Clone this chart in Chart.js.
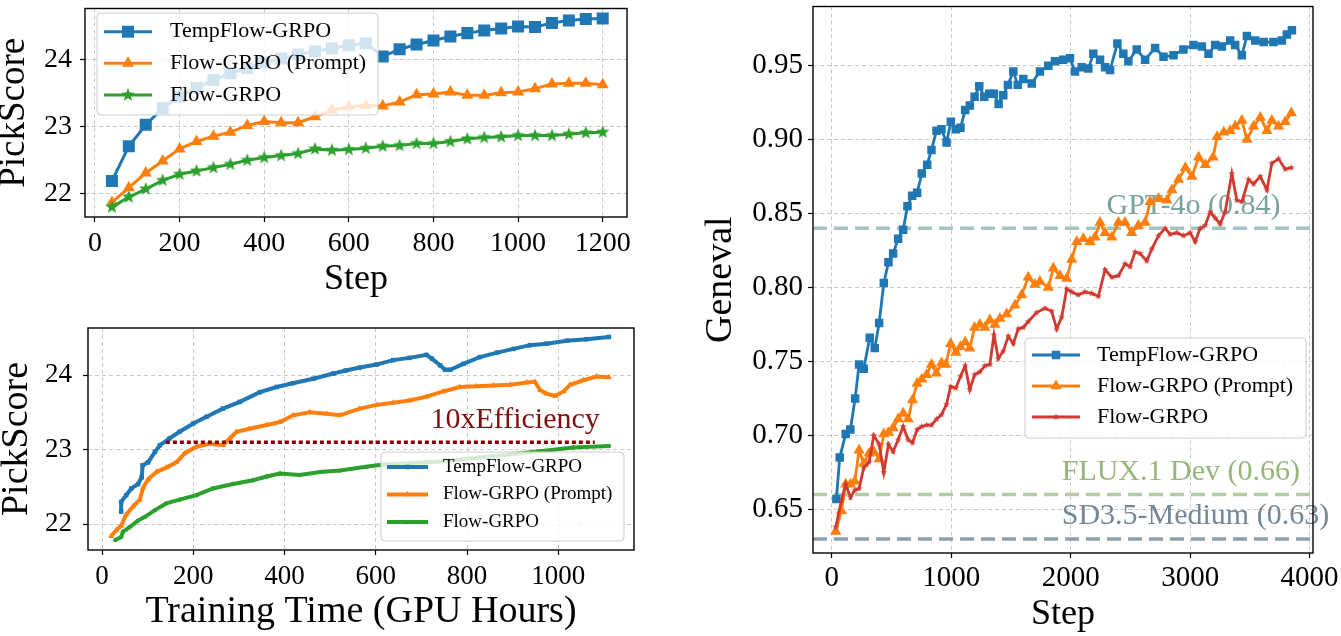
<!DOCTYPE html>
<html>
<head>
<meta charset="utf-8">
<script src="https://cdn.jsdelivr.net/npm/chart.js@4.4.1/dist/chart.umd.min.js"></script>
<style>
  body { margin: 0; background: #fff; }
  #wrap { position: relative; width: 1341px; height: 636px; overflow: hidden; }
  canvas { position: absolute; }
</style>
</head>
<body>
<div id="wrap">
  <canvas id="c1" width="650" height="310" style="left:0;top:0"></canvas>
  <canvas id="c2" width="650" height="326" style="left:0;top:310px"></canvas>
  <canvas id="c3" width="661" height="636" style="left:680px;top:0"></canvas>
</div>
<script>
// ---- top left: PickScore vs step
const stepsTop = [40, 80, 120, 160, 200, 240, 280, 320, 360, 400, 440, 480, 520, 560, 600,
  640, 680, 720, 760, 800, 840, 880, 920, 960, 1000, 1040, 1080, 1120, 1160, 1200];
const tempTop = [22.19, 22.71, 23.03, 23.28, 23.45, 23.58, 23.70, 23.80, 23.88, 23.96, 24.02, 24.08, 24.13, 24.17, 24.22,
  24.25, 24.05, 24.16, 24.23, 24.29, 24.35, 24.40, 24.44, 24.47, 24.50, 24.49, 24.55, 24.59, 24.61, 24.62];
const promptTop = [21.87, 22.09, 22.31, 22.49, 22.67, 22.78, 22.86, 22.92, 23.02, 23.08, 23.06, 23.06, 23.15, 23.25, 23.30,
  23.32, 23.31, 23.37, 23.48, 23.49, 23.52, 23.47, 23.47, 23.51, 23.52, 23.57, 23.64, 23.65, 23.65, 23.63];
const flowTop = [21.80, 21.95, 22.07, 22.20, 22.29, 22.34, 22.39, 22.44, 22.50, 22.54, 22.57, 22.60, 22.67, 22.65, 22.66,
  22.68, 22.71, 22.72, 22.75, 22.75, 22.78, 22.82, 22.84, 22.85, 22.87, 22.87, 22.87, 22.89, 22.91, 22.92];
const stepTicksTop = [0, 200, 400, 600, 800, 1000, 1200];
const pickTicks = [22, 23, 24];

// ---- bottom left: PickScore vs GPU hours
const hoursTemp = [42, 42, 53, 64, 79, 87, 89, 101, 116, 127, 148, 170, 200, 229, 265, 302, 346, 383, 418, 463,
  507, 534, 565, 602, 638, 674, 711, 723, 741, 752, 763, 792, 828, 866, 902, 938, 974, 1019, 1062, 1111];
const pickTemp = [22.17, 22.30, 22.39, 22.48, 22.54, 22.63, 22.79, 22.83, 22.97, 23.06, 23.15, 23.24, 23.35, 23.44, 23.55, 23.64, 23.77, 23.84, 23.89, 23.95,
  24.02, 24.06, 24.10, 24.14, 24.20, 24.23, 24.27, 24.22, 24.13, 24.07, 24.07, 24.15, 24.24, 24.30, 24.35, 24.40, 24.42, 24.46, 24.48, 24.51];
const hoursPrompt = [20, 31, 42, 53, 68, 83, 90, 101, 119, 141, 163, 181, 207, 236, 265, 280, 295, 323, 361, 390, 419, 455,
  492, 521, 565, 602, 638, 674, 711, 748, 784, 821, 858, 895, 931, 949, 960, 974, 993, 1012, 1026, 1055, 1084, 1111];
const pickPrompt = [21.84, 21.92, 21.98, 22.13, 22.24, 22.33, 22.49, 22.60, 22.70, 22.76, 22.83, 22.95, 23.04, 23.08, 23.06, 23.15, 23.24, 23.28, 23.33, 23.37, 23.46, 23.50,
  23.48, 23.46, 23.55, 23.60, 23.63, 23.66, 23.71, 23.78, 23.84, 23.85, 23.86, 23.87, 23.90, 23.91, 23.80, 23.75, 23.72, 23.78, 23.87, 23.93, 23.98, 23.97];
const hoursFlow = [29, 42, 46, 60, 79, 94, 116, 141, 170, 207, 243, 287, 331, 361, 390, 433, 478, 521, 579, 616, 741, 850, 960, 1033, 1111];
const pickFlow = [21.79, 21.83, 21.90, 21.96, 22.05, 22.10, 22.19, 22.28, 22.33, 22.39, 22.48, 22.54, 22.59, 22.64, 22.68, 22.66, 22.70, 22.72, 22.77, 22.80, 22.84, 22.91, 22.98, 23.03, 23.05];
const effHours = [140, 1080];
const effPick = [23.1, 23.1];
const hourTicks = [0, 200, 400, 600, 800, 1000];

// ---- right: Geneval vs step
const stepsBlue = [39, 67, 117, 156, 196, 229, 268, 318, 360, 397, 436, 475, 514, 556, 598, 634, 673, 715, 754, 799,
  835, 877, 919, 961, 997, 1039, 1078, 1117, 1156, 1196, 1235, 1277, 1319, 1358, 1397, 1436, 1475, 1520, 1557, 1604,
  1674, 1743, 1813, 1869, 1938, 1994, 2036, 2092, 2148, 2190, 2246, 2288, 2330, 2391, 2441, 2483, 2553, 2623, 2707, 2777,
  2861, 2944, 3028, 3098, 3154, 3210, 3266, 3335, 3377, 3433, 3475, 3545, 3615, 3698, 3768, 3810, 3852];
const genevalBlue = [0.657, 0.685, 0.701, 0.704, 0.725, 0.748, 0.745, 0.766, 0.759, 0.776, 0.803, 0.817, 0.823, 0.833, 0.839, 0.855, 0.862, 0.864, 0.877, 0.883,
  0.893, 0.906, 0.907, 0.898, 0.912, 0.907, 0.908, 0.920, 0.923, 0.929, 0.936, 0.929, 0.931, 0.931, 0.924, 0.930, 0.937, 0.946, 0.937, 0.941,
  0.938, 0.946, 0.950, 0.953, 0.954, 0.955, 0.946, 0.949, 0.948, 0.958, 0.954, 0.949, 0.947, 0.965, 0.958, 0.953, 0.961, 0.954, 0.962, 0.956,
  0.957, 0.961, 0.964, 0.963, 0.958, 0.964, 0.963, 0.967, 0.964, 0.957, 0.970, 0.967, 0.966, 0.966, 0.967, 0.971, 0.974];
const stepsOrange = [34, 81, 117, 157, 193, 229, 268, 313, 352, 397, 436, 475, 514, 556, 598, 640, 676, 715, 754, 794,
  835, 877, 919, 955, 995, 1039, 1078, 1117, 1156, 1196, 1240, 1282, 1324, 1366, 1408, 1464, 1534, 1590, 1645, 1701,
  1743, 1813, 1855, 1911, 1967, 2009, 2051, 2106, 2162, 2204, 2246, 2288, 2344, 2400, 2455, 2511, 2567, 2623, 2665, 2735,
  2805, 2847, 2903, 2960, 3015, 3071, 3127, 3192, 3226, 3282, 3335, 3377, 3433, 3475, 3531, 3587, 3643, 3684, 3740, 3796, 3847];
const genevalOrange = [0.635, 0.649, 0.667, 0.667, 0.669, 0.690, 0.681, 0.688, 0.689, 0.684, 0.701, 0.702, 0.705, 0.711, 0.715, 0.711, 0.724, 0.735, 0.738, 0.741,
  0.748, 0.742, 0.749, 0.748, 0.762, 0.756, 0.760, 0.763, 0.759, 0.773, 0.775, 0.773, 0.778, 0.775, 0.779, 0.782, 0.788, 0.795, 0.807, 0.802,
  0.804, 0.800, 0.813, 0.808, 0.806, 0.819, 0.831, 0.833, 0.831, 0.834, 0.844, 0.837, 0.834, 0.844, 0.844, 0.837, 0.842, 0.844, 0.858, 0.860,
  0.859, 0.866, 0.873, 0.881, 0.875, 0.888, 0.883, 0.888, 0.902, 0.905, 0.906, 0.909, 0.913, 0.900, 0.909, 0.915, 0.906, 0.913, 0.909, 0.912, 0.918];
const stepsRed = [34, 81, 117, 157, 193, 229, 268, 313, 352, 397, 436, 475, 514, 556, 598, 640, 676, 715, 754, 794,
  835, 877, 919, 961, 995, 1039, 1078, 1117, 1156, 1196, 1240, 1282, 1324, 1358, 1394, 1436, 1478, 1520, 1561, 1604,
  1645, 1715, 1785, 1841, 1883, 1925, 1967, 2009, 2064, 2120, 2176, 2232, 2288, 2344, 2400, 2455, 2497, 2539, 2581, 2637,
  2679, 2735, 2791, 2833, 2889, 2944, 3000, 3042, 3084, 3126, 3168, 3210, 3251, 3293, 3349, 3391, 3433, 3489, 3531, 3587,
  3643, 3684, 3740, 3796, 3847];
const genevalRed = [0.638, 0.656, 0.667, 0.658, 0.663, 0.664, 0.678, 0.682, 0.700, 0.694, 0.675, 0.694, 0.689, 0.697, 0.706, 0.697, 0.695, 0.704, 0.706, 0.707,
  0.707, 0.711, 0.714, 0.721, 0.733, 0.732, 0.740, 0.747, 0.731, 0.741, 0.743, 0.747, 0.748, 0.768, 0.752, 0.757, 0.767, 0.762, 0.772, 0.773,
  0.777, 0.783, 0.786, 0.784, 0.772, 0.780, 0.799, 0.797, 0.795, 0.797, 0.796, 0.794, 0.812, 0.807, 0.808, 0.816, 0.814, 0.824, 0.823, 0.818,
  0.826, 0.835, 0.840, 0.836, 0.837, 0.835, 0.837, 0.831, 0.840, 0.842, 0.851, 0.847, 0.843, 0.851, 0.877, 0.859, 0.858, 0.873, 0.870, 0.875,
  0.866, 0.884, 0.887, 0.880, 0.881];
const refNames = ['GPT-4o (0.84)', 'FLUX.1 Dev (0.66)', 'SD3.5-Medium (0.63)'];
const refScores = [0.84, 0.66, 0.63];
const geStepTicks = [0, 1000, 2000, 3000, 4000];
const genevalTicks = [0.65, 0.70, 0.75, 0.80, 0.85, 0.90, 0.95];

const SERIF = '"Liberation Serif", "Times New Roman", serif';
const BLUE = '#1f77b4', ORANGE = '#ff7f0e', GREEN = '#2ca02c', RED = '#d03a30';
const GRID = '#c8c8c8';

const zip = (xs, ys) => xs.map((x, i) => ({x: x, y: ys[i]}));

function starImg(d, color) {
  const c = document.createElement('canvas');
  c.width = d; c.height = d;
  const g = c.getContext('2d');
  const R = d / 2, r = R * 0.42;
  g.beginPath();
  for (let k = 0; k < 10; k++) {
    const rad = k % 2 ? r : R;
    const a = -Math.PI / 2 + k * Math.PI / 5;
    g.lineTo(R + rad * Math.cos(a), R + rad * Math.sin(a));
  }
  g.closePath();
  g.fillStyle = color;
  g.fill();
  return c;
}

function scales(c) {
  const tickFont = {family: SERIF, size: c.tickSize, lineHeight: 1};
  const grid = {color: GRID, lineWidth: 1, drawTicks: true, tickLength: 5, tickColor: '#000', tickWidth: 1.2};
  return {
    x: {
      type: 'linear', min: c.xMin, max: c.xMax,
      afterBuildTicks: s => { s.ticks = c.xTicks.map(v => ({value: v})); },
      afterFit: s => { s.height = c.xH; s.paddingLeft = 0; s.paddingRight = 0; },
      grid: grid,
      border: {display: false, dash: [4, 3]},
      ticks: {color: '#000', padding: c.xPad, maxRotation: 0, autoSkip: false, font: tickFont, callback: v => String(v)},
      title: {display: true, text: c.xTitle, color: '#000', font: {family: SERIF, size: c.xTitleSize, lineHeight: 1},
        padding: {top: 0, bottom: c.xTitlePad}}
    },
    y: {
      type: 'linear', min: c.yMin, max: c.yMax,
      afterBuildTicks: s => { s.ticks = c.yTicks.map(v => ({value: v})); },
      afterFit: s => { s.width = c.yW; s.paddingTop = 0; s.paddingBottom = 0; },
      grid: grid,
      border: {display: false, dash: [4, 3]},
      ticks: {color: '#000', padding: c.yPad, autoSkip: false, font: tickFont, callback: c.yFmt},
      title: {display: true, text: c.yTitle, color: '#000', font: {family: SERIF, size: c.yTitleSize, lineHeight: 1},
        padding: {top: c.yTitlePad, bottom: 0}}
    }
  };
}

function figPlugin(f) {
  return {
    id: 'fig',
    beforeDatasetsDraw(chart) {
      const {ctx, chartArea: a, scales: {x, y}} = chart;
      ctx.save();
      (f.refs || []).forEach((r, i) => {
        const py = y.getPixelForValue(refScores[i]);
        ctx.strokeStyle = r.line; ctx.lineWidth = 3.5; ctx.setLineDash([14, 7]);
        ctx.beginPath(); ctx.moveTo(a.left, py); ctx.lineTo(a.right, py); ctx.stroke();
      });
      ctx.setLineDash([]);
      (f.refs || []).forEach((r, i) => {
        ctx.font = '30px ' + SERIF; ctx.fillStyle = r.text;
        ctx.textAlign = 'left'; ctx.textBaseline = 'alphabetic';
        ctx.fillText(refNames[i], x.getPixelForValue(r.at[0]), y.getPixelForValue(r.at[1]));
      });
      ctx.restore();
    },
    afterDatasetsDraw(chart) {
      const {ctx, scales: {x, y}} = chart;
      ctx.save();
      (f.texts || []).forEach(t => {
        ctx.font = t.font; ctx.fillStyle = t.color; ctx.textAlign = t.align; ctx.textBaseline = 'alphabetic';
        ctx.fillText(t.text, x.getPixelForValue(t.at[0]), y.getPixelForValue(t.at[1]));
      });
      const L = f.legend;
      ctx.beginPath();
      ctx.roundRect(L.x, L.y, L.w, L.h, 4);
      ctx.fillStyle = 'rgba(255,255,255,0.8)'; ctx.fill();
      ctx.strokeStyle = '#cccccc'; ctx.lineWidth = 1; ctx.stroke();
      chart.data.datasets.filter(d => !d.noLegend).forEach((d, i) => {
        const yy = L.rows[i];
        ctx.strokeStyle = d.borderColor; ctx.lineWidth = d.borderWidth;
        ctx.beginPath(); ctx.moveTo(L.x1, yy); ctx.lineTo(L.x2, yy); ctx.stroke();
        ctx.fillStyle = d.backgroundColor;
        Chart.helpers.drawPoint(ctx, {pointStyle: d.pointStyle, radius: d.pointRadius, rotation: 0, borderWidth: 0}, (L.x1 + L.x2) / 2, yy);
        ctx.fillStyle = '#000'; ctx.font = L.font; ctx.textAlign = 'left'; ctx.textBaseline = 'middle';
        ctx.fillText(d.label, L.tx, yy);
      });
      ctx.restore();
    },
    afterDraw(chart) {
      const {ctx, chartArea: a} = chart;
      ctx.save();
      ctx.strokeStyle = '#000'; ctx.lineWidth = 1.4;
      ctx.strokeRect(a.left, a.top, a.right - a.left, a.bottom - a.top);
      ctx.restore();
    }
  };
}

function series(label, color, xs, ys, style, radius, width, order) {
  return {
    label: label, data: zip(xs, ys), borderColor: color, backgroundColor: color, borderWidth: width,
    pointStyle: style, pointRadius: radius, pointBorderWidth: 0, pointHoverRadius: radius,
    tension: 0, fill: false, order: order
  };
}

const base = {responsive: false, animation: false, events: [], plugins: {legend: {display: false}, tooltip: {enabled: false}}};

// top left chart
new Chart(document.getElementById('c1'), {
  type: 'line',
  data: {datasets: [
    series('TempFlow-GRPO', BLUE, stepsTop, tempTop, 'rect', 8.5, 3, 3),
    series('Flow-GRPO (Prompt)', ORANGE, stepsTop, promptTop, 'triangle', 7, 3, 2),
    series('Flow-GRPO', GREEN, stepsTop, flowTop, starImg(14, GREEN), 7, 3, 1)
  ]},
  options: Object.assign({}, base, {
    layout: {padding: {top: 2, right: 23, left: 0, bottom: 0}},
    scales: scales({xMin: -23.6, xMax: 1257.4, yMin: 21.652, yMax: 24.768, xTicks: stepTicksTop, yTicks: pickTicks,
      xH: 93, yW: 85, tickSize: 28, xPad: 8, yPad: 8, yFmt: v => String(v),
      xTitle: 'Step', xTitleSize: 36, xTitlePad: 12, yTitle: 'PickScore', yTitleSize: 37, yTitlePad: -4.5})
  }),
  plugins: [figPlugin({legend: {x: 97, y: 13, w: 281, h: 102, rows: [31.7, 63.3, 95], x1: 104, x2: 152, tx: 170, font: '22px ' + SERIF}})]
});

// bottom left chart
new Chart(document.getElementById('c2'), {
  type: 'line',
  data: {datasets: [
    series('TempFlow-GRPO', BLUE, hoursTemp, pickTemp, 'rect', 3.2, 4, 3),
    series('Flow-GRPO (Prompt)', ORANGE, hoursPrompt, pickPrompt, 'triangle', 3.5, 4, 2),
    series('Flow-GRPO', GREEN, hoursFlow, pickFlow, 'circle', 2.2, 4, 1),
    Object.assign(series('eff', '#8b0000', effHours, effPick, 'circle', 0, 3.5, 0), {borderDash: [4, 3], noLegend: true})
  ]},
  options: Object.assign({}, base, {
    layout: {padding: {top: 18, right: 16, left: 0, bottom: 0}},
    scales: scales({xMin: -30.7, xMax: 1166, yMin: 21.656, yMax: 24.63, xTicks: hourTicks, yTicks: pickTicks,
      xH: 86, yW: 88, tickSize: 27, xPad: 8, yPad: 11, yFmt: v => String(v),
      xTitle: 'Training Time (GPU Hours)', xTitleSize: 38, xTitlePad: 4.5, yTitle: 'PickScore', yTitleSize: 38, yTitlePad: -2})
  }),
  plugins: [figPlugin({
    texts: [{text: '10xEfficiency', at: [1091, 23.29], color: '#801010', align: 'right', font: '30px ' + SERIF}],
    legend: {x: 381, y: 142, w: 243, h: 89, rows: [157, 184.5, 212], x1: 387, x2: 428, tx: 443, font: '19px ' + SERIF}
  })]
});

// right chart
new Chart(document.getElementById('c3'), {
  type: 'line',
  data: {datasets: [
    series('TempFlow-GRPO', BLUE, stepsBlue, genevalBlue, 'rect', 6, 2.8, 3),
    series('Flow-GRPO (Prompt)', ORANGE, stepsOrange, genevalOrange, 'triangle', 6.5, 2.8, 2),
    series('Flow-GRPO', RED, stepsRed, genevalRed, starImg(7, RED), 3.5, 2.8, 1)
  ]},
  options: Object.assign({}, base, {
    layout: {padding: {top: 3, right: 28, left: 0, bottom: 0}},
    scales: scales({xMin: -156.7, xMax: 4028.5, yMin: 0.62047, yMax: 0.99, xTicks: geStepTicks, yTicks: genevalTicks,
      xH: 83, yW: 133, tickSize: 29, xPad: 6, yPad: 5, yFmt: v => v.toFixed(2),
      xTitle: 'Step', xTitleSize: 36, xTitlePad: 3, yTitle: 'Geneval', yTitleSize: 38, yTitlePad: 22})
  }),
  plugins: [figPlugin({
    refs: [
      {line: '#a3c4c1', text: '#7aa39e', at: [2300, 0.85]},
      {line: '#b4cba2', text: '#96b67a', at: [1925, 0.67]},
      {line: '#8ca0ac', text: '#738796', at: [1925, 0.64]}
    ],
    legend: {x: 345, y: 338, w: 281, h: 100, rows: [355, 386, 417], x1: 352, x2: 400, tx: 417, font: '22px ' + SERIF}
  })]
});
</script>
</body>
</html>
